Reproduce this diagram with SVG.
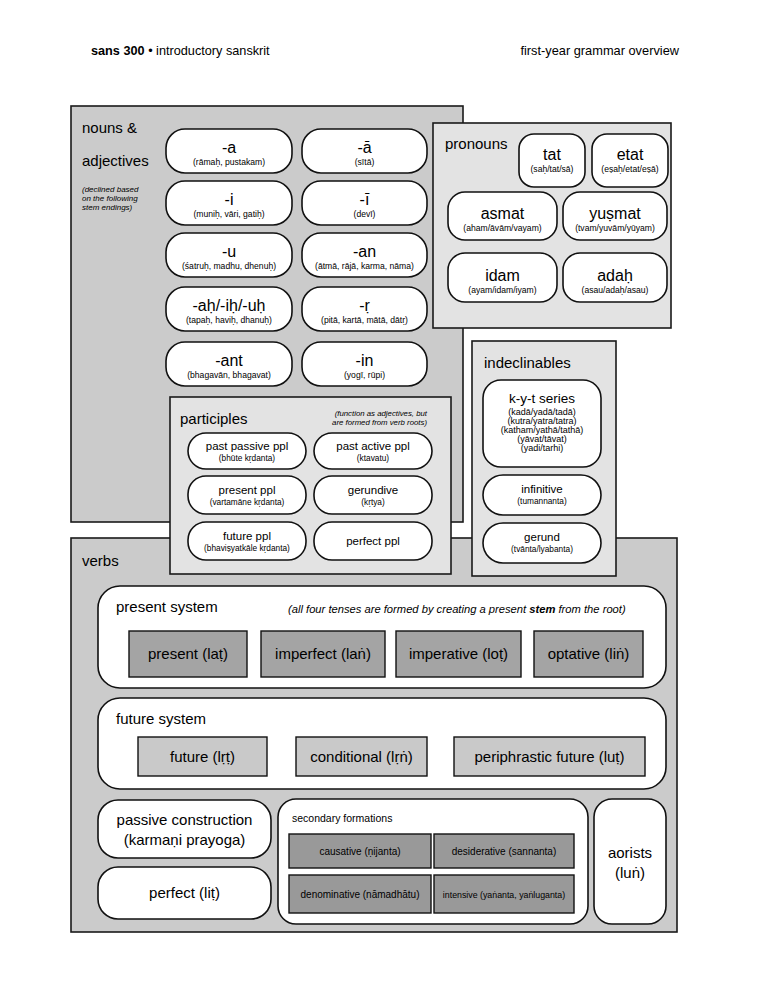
<svg xmlns="http://www.w3.org/2000/svg" width="768" height="994" viewBox="0 0 768 994">
<style>
text{font-family:"Liberation Sans",Arial,sans-serif;fill:#000}
.outer{fill:#cbcbcb;stroke:#1a1a1a;stroke-width:1.6}
.inner{fill:#e3e3e3;stroke:#1a1a1a;stroke-width:1.6}
.pill{fill:#fff;stroke:#111;stroke-width:1.6}
.dark{fill:#a4a4a4;stroke:#111;stroke-width:1.4}
.mid{fill:#c9c9c9;stroke:#111;stroke-width:1.4}
.darker{fill:#999;stroke:#111;stroke-width:1.4}
.lbl{font-size:15px}
.m{font-size:16px;text-anchor:middle}
.s{font-size:8.6px;text-anchor:middle}
.k{font-size:9px;text-anchor:middle}
.pm{font-size:11.5px;text-anchor:middle}
.ps{font-size:8.3px;text-anchor:middle}
.note{font-size:8px;font-style:italic}
.note2{font-size:7.8px;font-style:italic;text-anchor:end}
.v{font-size:15px;text-anchor:middle}
.sf{font-size:10px;text-anchor:middle}
.sf2{font-size:8.8px;text-anchor:middle}
</style>

<g id="header">
<text x="91" y="55" font-size="12.7"><tspan font-weight="bold">sans 300</tspan> • introductory sanskrit</text>
<text x="679" y="55" font-size="12.8" text-anchor="end">first-year grammar overview</text>
</g>

<g id="nouns">
<rect class="outer" x="71" y="106" width="392" height="416"/>
<text class="lbl" x="82" y="133">nouns &amp;</text>
<text class="lbl" x="82" y="166">adjectives</text>
<text class="note" x="82" y="192">(declined based</text>
<text class="note" x="82" y="201">on the following</text>
<text class="note" x="82" y="210">stem endings)</text>
<g id="n-a"><rect class="pill" x="166" y="129" width="126" height="44" rx="19"/><text class="m" x="229" y="153">-a</text><text class="s" x="229" y="165">(rāmaḥ, pustakam)</text></g>
<g id="n-aa"><rect class="pill" x="302" y="129" width="125" height="44" rx="19"/><text class="m" x="364.5" y="153">-ā</text><text class="s" x="364.5" y="165">(sītā)</text></g>
<g id="n-i"><rect class="pill" x="166" y="181" width="126" height="44" rx="19"/><text class="m" x="229" y="205">-i</text><text class="s" x="229" y="217">(muniḥ, vāri, gatiḥ)</text></g>
<g id="n-ii"><rect class="pill" x="302" y="181" width="125" height="44" rx="19"/><text class="m" x="364.5" y="205">-ī</text><text class="s" x="364.5" y="217">(devī)</text></g>
<g id="n-u"><rect class="pill" x="166" y="233" width="126" height="44" rx="19"/><text class="m" x="229" y="257">-u</text><text class="s" x="229" y="269">(śatruḥ, madhu, dhenuḥ)</text></g>
<g id="n-an"><rect class="pill" x="302" y="233" width="125" height="44" rx="19"/><text class="m" x="364.5" y="257">-an</text><text class="s" x="364.5" y="269">(ātmā, rājā, karma, nāma)</text></g>
<g id="n-ah"><rect class="pill" x="166" y="287" width="126" height="44" rx="19"/><text class="m" x="229" y="311">-aḥ/-iḥ/-uḥ</text><text class="s" x="229" y="323">(tapaḥ, haviḥ, dhanuḥ)</text></g>
<g id="n-r"><rect class="pill" x="302" y="287" width="125" height="44" rx="19"/><text class="m" x="364.5" y="311">-ṛ</text><text class="s" x="364.5" y="323">(pitā, kartā, mātā, dātṛ)</text></g>
<g id="n-ant"><rect class="pill" x="166" y="342" width="126" height="44" rx="19"/><text class="m" x="229" y="366">-ant</text><text class="s" x="229" y="378">(bhagavān, bhagavat)</text></g>
<g id="n-in"><rect class="pill" x="302" y="342" width="125" height="44" rx="19"/><text class="m" x="364.5" y="366">-in</text><text class="s" x="364.5" y="378">(yogī, rūpi)</text></g>
</g>

<g id="verbs">
<rect class="outer" x="71" y="538" width="606" height="394"/>
<text class="lbl" x="82" y="566">verbs</text>
<g id="present-system">
<rect class="pill" x="98" y="586" width="568" height="102" rx="22"/>
<text class="lbl" x="116" y="612">present system</text>
<text x="288" y="613" font-size="11.2" font-style="italic">(all four tenses are formed by creating a present <tspan font-weight="bold">stem</tspan> from the root)</text>
<g id="v-lat"><rect class="dark" x="129" y="631" width="118" height="46"/><text class="v" x="188" y="659">present (laṭ)</text></g>
<g id="v-lan"><rect class="dark" x="261" y="631" width="124" height="46"/><text class="v" x="323" y="659">imperfect (laṅ)</text></g>
<g id="v-lot"><rect class="dark" x="396" y="631" width="125" height="46"/><text class="v" x="458.5" y="659">imperative (loṭ)</text></g>
<g id="v-lin"><rect class="dark" x="534" y="631" width="109" height="46"/><text class="v" x="588.5" y="659">optative (liṅ)</text></g>
</g>
<g id="future-system">
<rect class="pill" x="98" y="698" width="568" height="91" rx="22"/>
<text class="lbl" x="116" y="724">future system</text>
<g id="v-lrt"><rect class="mid" x="138" y="737" width="129" height="39"/><text class="v" x="202.5" y="762">future (lṛṭ)</text></g>
<g id="v-lrn"><rect class="mid" x="296" y="737" width="131" height="39"/><text class="v" x="361.5" y="762">conditional (lṛṅ)</text></g>
<g id="v-lut"><rect class="mid" x="454" y="737" width="191" height="39"/><text class="v" x="549.5" y="762">periphrastic future (luṭ)</text></g>
</g>
<g id="passive"><rect class="pill" x="98" y="800" width="173" height="58" rx="20"/><text class="v" x="184.5" y="825">passive construction</text><text class="v" x="184.5" y="845">(karmaṇi prayoga)</text></g>
<g id="perfect"><rect class="pill" x="98" y="867" width="173" height="52" rx="20"/><text class="v" x="184.5" y="898">perfect (liṭ)</text></g>
<g id="secondary">
<rect class="pill" x="278" y="799" width="310" height="125" rx="18"/>
<text x="292" y="822" font-size="10.5">secondary formations</text>
<g id="s-caus"><rect class="darker" x="289" y="834" width="142" height="34"/><text class="sf" x="360" y="855">causative (ṇijanta)</text></g>
<g id="s-des"><rect class="darker" x="434" y="834" width="140" height="34"/><text class="sf" x="504" y="855">desiderative (sannanta)</text></g>
<g id="s-den"><rect class="darker" x="289" y="875" width="142" height="38"/><text class="sf" x="360" y="898">denominative (nāmadhātu)</text></g>
<g id="s-int"><rect class="darker" x="434" y="875" width="140" height="38"/><text class="sf2" x="504" y="897.5">intensive (yaṅanta, yaṅluganta)</text></g>
</g>
<g id="aorists"><rect class="pill" x="594" y="799" width="72" height="125" rx="18"/><text class="v" x="630" y="858">aorists</text><text class="v" x="630" y="878">(luṅ)</text></g>
</g>

<g id="pronouns">
<rect class="inner" x="433" y="123" width="238" height="205"/>
<text class="lbl" x="445" y="149">pronouns</text>
<g id="p-tat"><rect class="pill" x="519" y="134" width="66" height="53" rx="15"/><text class="m" x="552" y="160">tat</text><text class="s" x="552" y="172">(saḥ/tat/sā)</text></g>
<g id="p-etat"><rect class="pill" x="592" y="134" width="76" height="53" rx="15"/><text class="m" x="630" y="160">etat</text><text class="s" x="630" y="172">(eṣaḥ/etat/eṣā)</text></g>
<g id="p-asmat"><rect class="pill" x="448" y="192" width="109" height="48" rx="17"/><text class="m" x="502.5" y="219">asmat</text><text class="s" x="502.5" y="231">(aham/āvām/vayam)</text></g>
<g id="p-yusmat"><rect class="pill" x="563" y="192" width="104" height="48" rx="17"/><text class="m" x="615" y="219">yuṣmat</text><text class="s" x="615" y="231">(tvam/yuvām/yūyam)</text></g>
<g id="p-idam"><rect class="pill" x="448" y="253" width="109" height="49" rx="17"/><text class="m" x="502.5" y="281">idam</text><text class="s" x="502.5" y="293">(ayam/idam/iyam)</text></g>
<g id="p-adah"><rect class="pill" x="563" y="253" width="104" height="49" rx="17"/><text class="m" x="615" y="281">adaḥ</text><text class="s" x="615" y="293">(asau/adaḥ/asau)</text></g>
</g>

<g id="participles">
<rect class="inner" x="170" y="397" width="281" height="177"/>
<text class="lbl" x="180" y="424">participles</text>
<text class="note2" x="427" y="416">(function as adjectives, but</text>
<text class="note2" x="427" y="425">are formed from verb roots)</text>
<g id="pp-pp"><rect class="pill" x="188" y="433" width="118" height="36" rx="18"/><text class="pm" x="247" y="450">past passive ppl</text><text class="ps" x="247" y="461">(bhūte kṛdanta)</text></g>
<g id="pp-pa"><rect class="pill" x="314" y="433" width="118" height="36" rx="18"/><text class="pm" x="373" y="450">past active ppl</text><text class="ps" x="373" y="461">(ktavatu)</text></g>
<g id="pp-pr"><rect class="pill" x="188" y="476" width="118" height="38" rx="18"/><text class="pm" x="247" y="494">present ppl</text><text class="ps" x="247" y="505">(vartamāne kṛdanta)</text></g>
<g id="pp-ger"><rect class="pill" x="314" y="476" width="118" height="38" rx="18"/><text class="pm" x="373" y="494">gerundive</text><text class="ps" x="373" y="505">(kṛtya)</text></g>
<g id="pp-fut"><rect class="pill" x="188" y="522" width="118" height="38" rx="18"/><text class="pm" x="247" y="540">future ppl</text><text class="ps" x="247" y="551">(bhaviṣyatkāle kṛdanta)</text></g>
<g id="pp-perf"><rect class="pill" x="314" y="522" width="118" height="38" rx="18"/><text class="pm" x="373" y="545">perfect ppl</text></g>
</g>

<g id="indeclinables">
<rect class="inner" x="472" y="341" width="144" height="235"/>
<text class="lbl" x="484" y="368">indeclinables</text>
<g id="i-kyt"><rect class="pill" x="483" y="380" width="118" height="87" rx="18"/>
<text x="542" y="403" font-size="13.5" text-anchor="middle">k-y-t series</text>
<text class="k" x="542" y="415">(kadā/yadā/tadā)</text>
<text class="k" x="542" y="424">(kutra/yatra/tatra)</text>
<text class="k" x="542" y="433">(katham/yathā/tathā)</text>
<text class="k" x="542" y="442">(yāvat/tāvat)</text>
<text class="k" x="542" y="451">(yadi/tarhi)</text></g>
<g id="i-inf"><rect class="pill" x="483" y="475" width="118" height="40" rx="20"/><text class="pm" x="542" y="493">infinitive</text><text class="ps" x="542" y="504">(tumannanta)</text></g>
<g id="i-ger"><rect class="pill" x="483" y="523" width="118" height="40" rx="20"/><text class="pm" x="542" y="541">gerund</text><text class="ps" x="542" y="552">(tvānta/lyabanta)</text></g>
</g>
<g id="connectors"/>
</svg>
